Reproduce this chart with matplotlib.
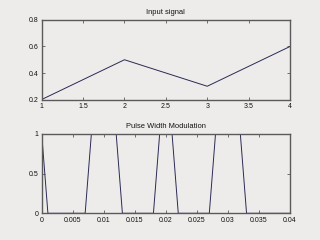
import matplotlib.pyplot as plt

# input signal
sig_x = [1, 2, 3, 4]
sig_y = [0.2, 0.5, 0.3, 0.6]

# pwm output
pwm_t = [0, 0.001, 0.007, 0.008, 0.012, 0.013, 0.018, 0.019,
         0.021, 0.022, 0.027, 0.028, 0.032, 0.033, 0.04]
pwm_y = [1, 0, 0, 1, 1, 0, 0, 1, 1, 0, 0, 1, 1, 0, 0]

sig_xticks = [1, 1.5, 2, 2.5, 3, 3.5, 4]
sig_yticks = [0.2, 0.4, 0.6, 0.8]
pwm_xticks = [0, 0.005, 0.01, 0.015, 0.02, 0.025, 0.03, 0.035, 0.04]
pwm_yticks = [0, 0.5, 1]

plt.rcParams['font.family'] = ['Liberation Sans', 'DejaVu Sans']

bg = '#eeecea'
line_c = '#2a2a55'
edge_c = '#5a5a5a'
fs = 5.0

fig = plt.figure(figsize=(3.2, 2.4), dpi=100, facecolor=bg)
ax1 = fig.add_axes([41.7 / 320, 1 - 99.5 / 240, 248.3 / 320, 79.5 / 240])
ax2 = fig.add_axes([41.7 / 320, 1 - 213.3 / 240, 248.3 / 320, 79.3 / 240])


def style(ax, xt, yt, xlim, ylim, title):
    ax.set_facecolor(bg)
    ax.set_xlim(*xlim)
    ax.set_ylim(*ylim)
    ax.set_xticks(xt)
    ax.set_yticks(yt)
    ax.set_xticklabels(['%g' % v for v in xt])
    ax.set_yticklabels(['%g' % v for v in yt])
    ax.tick_params(direction='in', length=2, width=0.6, labelsize=fs,
                   colors='#5a5a5a', labelcolor='#111111', pad=2.5,
                   top=True, right=True)
    for s in ax.spines.values():
        s.set_color(edge_c)
        s.set_linewidth(1.0)
        s.set_zorder(3)
    ax.set_title(title, fontsize=5.4, color='#111111', pad=4)


ax1.plot(sig_x, sig_y, color=line_c, lw=0.7, zorder=2)
style(ax1, sig_xticks, sig_yticks, (1, 4), (0.2, 0.8), 'Input signal')

ax2.plot(pwm_t, pwm_y, color=line_c, lw=0.7, zorder=2)
style(ax2, pwm_xticks, pwm_yticks, (0, 0.04), (0, 1), 'Pulse Width Modulation')

fig.savefig('out.png', dpi=100, facecolor=bg)
